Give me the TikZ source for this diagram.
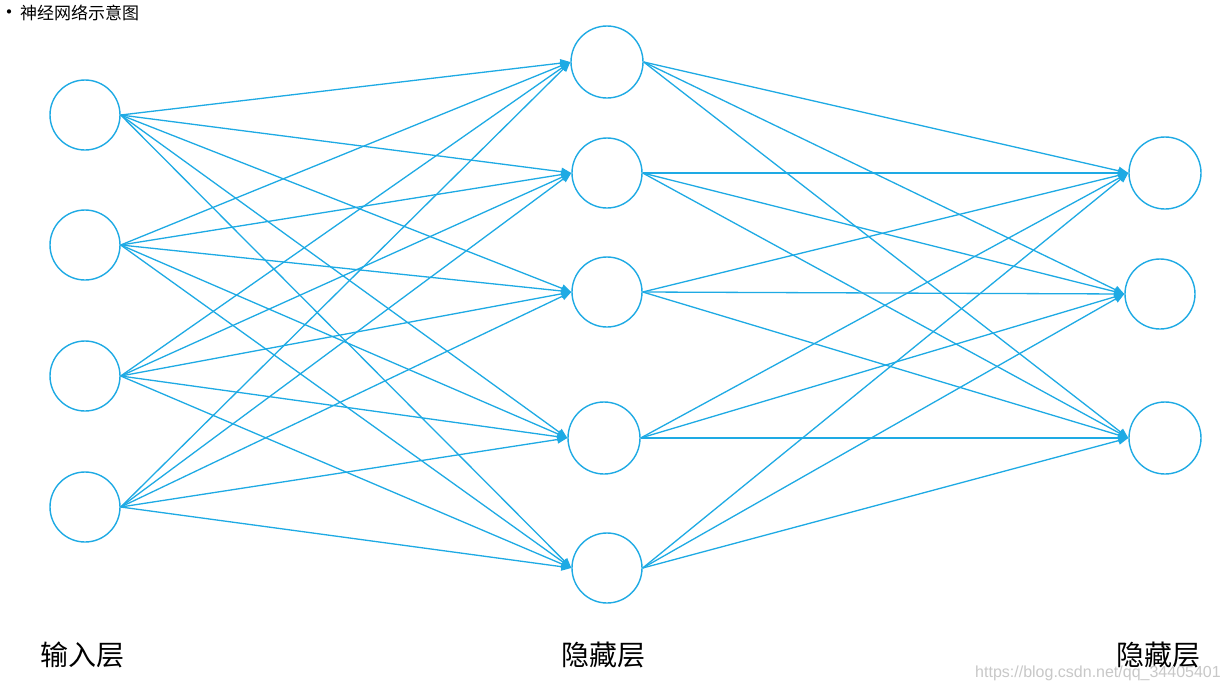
\documentclass[tikz,border=0pt]{standalone}
\usepackage{fontspec}
\setmainfont{Liberation Sans}
\newfontfamily\cjk{Noto Sans CJK SC}
\usetikzlibrary{arrows.meta}
\definecolor{nn}{RGB}{30,170,228}
\definecolor{wm}{RGB}{200,200,200}
\begin{document}
\begin{tikzpicture}[x=1pt,y=-1pt,
  neuron/.style={circle,draw=nn,line width=1.4pt,minimum size=70pt,inner sep=0pt},
  conn/.style={draw=nn,line width=1.3pt,-{Triangle[length=10pt,width=8pt]}},
  lbl/.style={font=\cjk\fontsize{28}{30}\selectfont,text=black,inner sep=0pt}]
\useasboundingbox[fill=white] (0,0) rectangle (1227,691);
% input layer
\node[neuron] (i1) at (85,115) {};
\node[neuron] (i2) at (85,245) {};
\node[neuron] (i3) at (85,376) {};
\node[neuron] (i4) at (85,507) {};
% hidden layer
\node[neuron,minimum size=72pt] (h1) at (607,62) {};
\node[neuron] (h2) at (607,173) {};
\node[neuron] (h3) at (607,292) {};
\node[neuron,minimum size=72pt] (h4) at (604,438) {};
\node[neuron] (h5) at (607,568) {};
% output layer
\node[neuron,minimum size=72pt] (o1) at (1165,173) {};
\node[neuron] (o2) at (1160,294) {};
\node[neuron,minimum size=72pt] (o3) at (1165,438) {};
% connections
\foreach \i in {1,...,4}{
  \foreach \h in {1,...,5}{
    \draw[conn] (i\i.east) -- (h\h.west);
  }
}
\foreach \h in {1,...,5}{
  \foreach \o in {1,...,3}{
    \draw[conn] (h\h.east) -- (o\o.west);
  }
}
% texts
\node[anchor=west,inner sep=0pt,font=\cjk\fontsize{17}{19}\selectfont] (title) at (-1,13) {{\fontsize{20}{20}\selectfont\textbullet}\hspace{1pt}神经网络示意图};
\node[lbl] (l1) at (82,655) {输入层};
\node[lbl] (l2) at (603,655) {隐藏层};
\node[lbl] (l3) at (1158,655) {隐藏层};
\node[text=wm,inner sep=0pt,font=\fontsize{16}{18}\selectfont] (wmk) at (1098,673) {https://blog.csdn.net/qq\_34405401};
\end{tikzpicture}
\end{document}
